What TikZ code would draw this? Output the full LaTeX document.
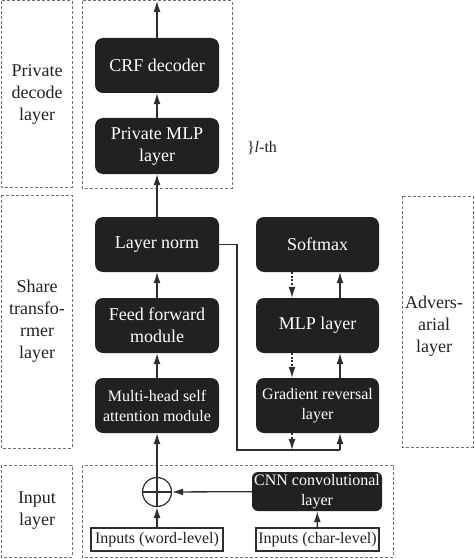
\documentclass[tikz,border=0pt]{standalone}
\usepackage{fontspec}
\setmainfont{Liberation Serif}
\usetikzlibrary{arrows.meta}
\definecolor{boxfill}{HTML}{222022}
\definecolor{linec}{HTML}{2E2E2E}
\definecolor{dashc}{HTML}{707070}
\definecolor{textc}{HTML}{222222}
\begin{document}
\begin{tikzpicture}[x=1pt,y=-1pt,
 blk/.style={draw=none, fill=boxfill, rounded corners=8pt, text=white, align=center, inner sep=0pt, font=\fontsize{18}{22}\selectfont},
 blks/.style={blk, font=\fontsize{16}{20}\selectfont},
 inbox/.style={draw=linec, line width=1.2pt, fill=white, inner sep=0pt, text=textc, font=\fontsize{16}{20}\selectfont},
 region/.style={draw=dashc, dash pattern=on 3pt off 2pt, line width=1pt},
 lab/.style={align=center, font=\fontsize{18}{22}\selectfont, text=textc},
 conn/.style={draw=linec, line width=1.3pt, -{Latex[length=11pt,width=7pt]}},
 dconn/.style={conn, dash pattern=on 2pt off 1.6pt},
]
\useasboundingbox (0,0) rectangle (474,559);
% dashed regions
\draw[region] (1,1) rectangle (72,187);
\draw[region] (82,1) rectangle (232,188);
\draw[region] (1,195) rectangle (72,448);
\draw[region] (402,196) rectangle (473,447);
\draw[region] (1,465) rectangle (72,557);
\draw[region] (82,465) rectangle (393,557);
% region labels
\node[lab] (lpd) at (37,94) {Private\\decode\\layer};
\node[lab] (lst) at (37,321) {Share\\transfo-\\rmer\\layer};
\node[lab] (ladv) at (434,326) {Advers-\\arial\\layer};
\node[lab] (lin) at (37,511) {Input\\layer};
% nodes
\node[blk, minimum width=124pt, minimum height=55pt] (crf) at (157,65.5) {CRF decoder};
\node[blk, minimum width=124pt, minimum height=56pt] (pmlp) at (157,146) {Private MLP\\layer};
\node[blk, minimum width=124pt, minimum height=55pt] (ln) at (157,244.5) {Layer norm};
\node[blk, minimum width=124pt, minimum height=55pt] (ff) at (157,325.5) {Feed forward\\module};
\node[blks, minimum width=124pt, minimum height=55pt] (mh) at (157,405.5) {Multi-head self\\attention module};
\node[blk, minimum width=123pt, minimum height=55pt] (soft) at (317.5,244.5) {Softmax};
\node[blk, minimum width=123pt, minimum height=55pt] (mlp) at (317.5,325.5) {MLP layer};
\node[blks, minimum width=123pt, minimum height=55pt] (grl) at (317.5,405.5) {Gradient reversal\\layer};
\node[blks, minimum width=130pt, minimum height=39pt, rounded corners=6pt] (cnn) at (317,491.5) {CNN convolutional\\layer};
\node[inbox, minimum width=132pt, minimum height=23pt] (inw) at (157,539.5) {Inputs (word-level)};
\node[inbox, minimum width=123pt, minimum height=23pt] (inc) at (317.5,539.5) {Inputs (char-level)};
\node[circle, draw=linec, line width=1.2pt, minimum size=29pt, inner sep=0pt] (plus) at (157,492) {};
\draw[linec, line width=1.2pt] (plus.north) -- (plus.south) (plus.west) -- (plus.east);
\node[font=\fontsize{16}{20}\selectfont, text=textc] (lth) at (262,148) {\}\textit{l}-th};
% coordinates
\coordinate (top) at (157,1);
\coordinate (corner) at (237,450);
\coordinate (j1) at (292,450);
\coordinate (j2) at (340,450);
% connectors
\draw[conn] (crf.north) -- (top);
\draw[conn] (pmlp) -- (crf);
\draw[conn] (ln) -- (pmlp);
\draw[conn] (ff) -- (ln);
\draw[conn] (mh) -- (ff);
\draw[conn] (plus) -- (mh);
\draw[conn] (inw) -- (plus);
\draw[conn] (cnn) -- (plus);
\draw[conn] (inc) -- (cnn);
\draw[linec, line width=1.3pt] (ln.east) -| (corner) -- (j2);
\draw[dconn] (soft.south -| j1) -- (mlp.north -| j1);
\draw[conn] (mlp.north -| j2) -- (soft.south -| j2);
\draw[dconn] (mlp.south -| j1) -- (grl.north -| j1);
\draw[conn] (grl.north -| j2) -- (mlp.south -| j2);
\draw[dconn] (grl.south -| j1) -- (j1);
\draw[conn] (j2) -- (grl.south -| j2);
\end{tikzpicture}
\end{document}
